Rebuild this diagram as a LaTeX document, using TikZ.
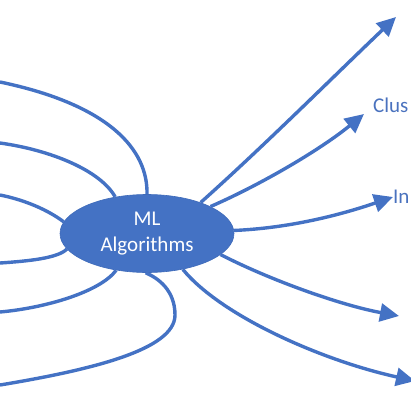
\documentclass[tikz,border=0pt]{standalone}
\usepackage{fontspec}
\setmainfont{Carlito}
\usetikzlibrary{shapes.geometric,arrows.meta}
\definecolor{mlblue}{HTML}{4472C4}
\definecolor{mlborder}{HTML}{3F6BBA}
\definecolor{lbl}{HTML}{4A72BE}
\tikzset{
  conn/.style={draw=mlblue, line width=3.4pt},
  arr/.style={conn, -{Triangle[length=19pt,width=18pt]}},
  lab/.style={text=lbl, font=\fontsize{21}{24}\selectfont, inner sep=0pt, anchor=west},
  hub/.style={ellipse, fill=mlblue, draw=mlborder, line width=0.6pt,
    minimum width=174pt, minimum height=78pt, inner sep=0pt,
    text=white, align=center, font=\fontsize{21}{26}\selectfont}
}
\begin{document}
\begin{tikzpicture}[x=1pt,y=-1pt]
\useasboundingbox (0,0) rectangle (410,410);
% left free ends
\coordinate (l1) at (0,82);
\coordinate (l2) at (0,143);
\coordinate (l3) at (0,195);
\coordinate (l4) at (0,263);
\coordinate (l5) at (0,312);
\coordinate (l6) at (0,385);
% right tips
\coordinate (r1) at (396,17);
\coordinate (r2) at (364,114);
\coordinate (r3) at (393,197);
\coordinate (r4) at (399,316);
\coordinate (r5) at (415,381);
\node[hub] (ml) at (147,233.5) {ML\\Algorithms};
% left curves
\draw[conn] (l1) .. controls (110,105) and (148,150) .. (ml.north);
\draw[conn] (l2) .. controls (50,150) and (100,170) .. (ml.131);
\draw[conn] (l3) .. controls (25,200) and (48,210) .. (ml.172);
\draw[conn] (l4) .. controls (30,261) and (58,258) .. (ml.191);
\draw[conn] (l5) .. controls (45,308) and (100,292) .. (ml.230);
\draw[conn] (l6) .. controls (90,370) and (175,350) .. (175,315)
  .. controls (175,290) and (158,278) .. (ml.268);
% right arrows
\draw[arr] (ml.30) .. controls (265,145) and (335,75) .. (r1);
\draw[arr] (ml.23) .. controls (260,185) and (320,150) .. (r2);
\draw[arr] (ml.2) .. controls (290,228) and (340,215) .. (r3);
\draw[arr] (ml.-16) .. controls (270,280) and (340,305) .. (r4);
\draw[arr] (ml.-45) .. controls (220,315) and (320,360) .. (r5);
% clipped labels
\node[lab] (c) at (373,105) {Clus};
\node[lab] (i) at (393,197) {In};
\end{tikzpicture}
\end{document}
